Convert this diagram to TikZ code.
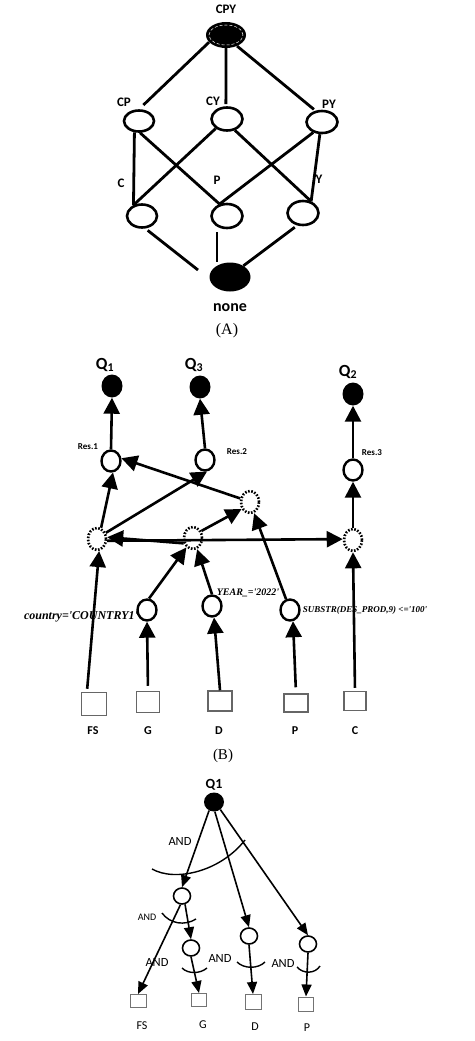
\documentclass[tikz,border=0pt]{standalone}
\usepackage{fontspec}
\setmainfont{Liberation Serif}
\newfontfamily\carl{Carlito}
\usetikzlibrary{arrows.meta,shapes.geometric,calc}
\newcommand{\sq}{\textquotesingle}
\begin{document}
\begin{tikzpicture}[x=1pt,y=-1pt,
  lat/.style={draw, ellipse, line width=2.6pt, inner sep=0pt},
  latfill/.style={ellipse, fill=black, inner sep=0pt},
  latlab/.style={font=\carl\bfseries\fontsize{13}{15}\selectfont, inner sep=0pt},
  ln/.style={line width=2.8pt},
  capt/.style={font=\fontsize{16}{18}\selectfont, inner sep=0pt},
  bc/.style={draw, ellipse, line width=2.4pt, minimum width=19pt, minimum height=21pt, inner sep=0pt},
  qc/.style={ellipse, fill=black, minimum width=21pt, minimum height=23pt, inner sep=0pt},
  dc/.style={draw, ellipse, line width=2.6pt, dash pattern=on 1.6pt off 1.6pt, minimum width=18pt, minimum height=22pt, inner sep=0pt},
  bbox/.style={draw=black!60, line width=1.5pt, inner sep=0pt},
  barr/.style={line width=2.6pt, -{Triangle[width=16pt,length=16pt]}},
  qlab/.style={font=\carl\bfseries\fontsize{17}{19}\selectfont, inner sep=0pt},
  rlab/.style={font=\carl\bfseries\fontsize{9}{11}\selectfont, inner sep=0pt},
  slab/.style={font=\bfseries\itshape, inner sep=0pt},
  blab/.style={font=\carl\bfseries\fontsize{12}{14}\selectfont, inner sep=0pt},
  cc/.style={draw, ellipse, line width=1.6pt, minimum width=17pt, minimum height=16pt, inner sep=0pt},
  cbox/.style={draw=black!55, line width=1pt, minimum width=15pt, minimum height=13pt, inner sep=0pt},
  carr/.style={line width=1.6pt, -{Triangle[width=10pt,length=12pt]}},
  arcst/.style={line width=1.4pt},
  andlab/.style={font=\carl\fontsize{12.5}{14}\selectfont, inner sep=0pt},
  clab/.style={font=\carl\fontsize{12}{14}\selectfont, inner sep=0pt}
]
\useasboundingbox (0,0) rectangle (474,1041);

% ================= (A) =================
\node[latlab] (tCPY) at (226,9) {CPY};
\node[latfill, minimum width=40pt, minimum height=26pt] (CPY) at (226,35) {};
\draw[white, densely dashed, line width=0.5pt] (CPY.center) ellipse [x radius=17pt, y radius=10pt];
\node[lat, minimum width=30pt, minimum height=21pt] (CP) at (139,121) {};
\node[lat, minimum width=31pt, minimum height=23pt] (CY) at (227,119) {};
\node[lat, minimum width=31pt, minimum height=22pt] (PY) at (322,122) {};
\node[lat, minimum width=30pt, minimum height=23pt] (C) at (142,216) {};
\node[lat, minimum width=31pt, minimum height=24pt] (P) at (227,216) {};
\node[lat, minimum width=31pt, minimum height=24pt] (Y) at (303,213) {};
\node[latfill, minimum width=41pt, minimum height=29pt] (none) at (230,277) {};

\node[latlab] (tCP) at (124,102) {CP};
\node[latlab] (tCY) at (213,101) {CY};
\node[latlab] (tPY) at (329,104) {PY};
\node[latlab] (tC) at (121,183) {C};
\node[latlab] (tP) at (217,180) {P};
\node[latlab] (tY) at (319,179) {Y};
\node[latlab, font=\carl\bfseries\fontsize{16}{18}\selectfont] (tnone) at (230,308) {none};
\node[capt] (capA) at (227,331) {(A)};

\draw[ln, shorten >=6pt] (CPY.203) -- (CP.north);
\draw[ln, shorten >=2pt] (CPY.south) -- (CY.95);
\draw[ln, shorten >=2pt] (CPY.-45) -- (PY.120);
\draw[ln] (CP.-112) -- (C.128);
\draw[ln] (CP.-85) -- (P.122);
\draw[ln] (CY.-140) -- (C.128);
\draw[ln] (CY.-55) -- (Y.55);
\draw[ln] (PY.-130) -- (P.122);
\draw[ln] (PY.-100) -- (Y.55);
\coordinate (nA) at (198,270);
\draw[ln, shorten <=3pt] (C.-75) -- (nA);
\draw[ln] ($(P.south)+(-10,3)$) -- ($(none.north)+(-13,0)$);
\draw[ln, shorten <=3pt] (Y.-115) -- (none.40);

% ================= (B) =================
\node[qc] (Q1) at (112,386) {};
\node[qc] (Q3) at (200,387) {};
\node[qc] (Q2) at (353,394) {};
\node[qlab] (tQ1) at (105,365) {Q\textsubscript{1}};
\node[qlab] (tQ3) at (194,365) {Q\textsubscript{3}};
\node[qlab] (tQ2) at (348,372) {Q\textsubscript{2}};

\node[bc] (R1) at (111,461) {};
\node[bc] (R2) at (205,460) {};
\node[bc] (R3) at (353,470) {};
\node[rlab] (tR1) at (88,447) {Res.1};
\node[rlab] (tR2) at (237,452) {Res.2};
\node[rlab] (tR3) at (372,453) {Res.3};

\node[dc] (D1) at (97,539) {};
\node[dc] (D2) at (193,538) {};
\node[dc] (D3) at (250,502) {};
\node[dc] (D4) at (353,540) {};

\node[bc] (S1) at (147,610) {};
\node[bc] (S2) at (212,606) {};
\node[bc] (S3) at (290,610) {};
\node[slab, font=\bfseries\itshape\fontsize{12}{14}\selectfont] (tS1) at (81,617) {country=\sq COUNTRY1\sq};
\node[slab, font=\bfseries\itshape\fontsize{10}{12}\selectfont] (tS2) at (248,593) {YEAR\_=\sq2022\sq};
\node[slab, font=\bfseries\itshape\fontsize{9}{11}\selectfont] (tS3) at (365,610) {SUBSTR(DES\_PROD,9) <=\sq100\sq};

\node[bbox, minimum width=25pt, minimum height=23pt] (bFS) at (94,704) {};
\node[bbox, minimum width=23pt, minimum height=21pt] (bG) at (148,702) {};
\node[bbox, minimum width=24pt, minimum height=20pt] (bD) at (220,701) {};
\node[bbox, minimum width=24pt, minimum height=18pt] (bP) at (296,703) {};
\node[bbox, minimum width=22pt, minimum height=19pt] (bC) at (355,701) {};
\node[blab] (tFS) at (93,731) {FS};
\node[blab] (tG) at (148,731) {G};
\node[blab] (tD) at (219,731) {D};
\node[blab] (tPb) at (295,731) {P};
\node[blab] (tCb) at (355,731) {C};
\node[capt, font=\fontsize{15}{17}\selectfont] (capB) at (223,756) {(B)};

\draw[barr] (R1.north) -- (Q1.south);
\draw[barr] (R2.north) -- (Q3.south);
\draw[barr] (R3.north) -- (Q2.south);
\draw[barr] (D1.70) -- (R1.-80);
\draw[barr] (D1.35) -- (R2.-80);
\draw[barr] (D3.160) -- (R1.15);
\draw[barr] (D2.40) -- (D3.220);
\draw[barr] (S3.110) -- (D3.-70);
\draw[barr] (D2.210) -- (D1.10);
\draw[barr] (D1.-10) -- (D4.175);
\draw[barr] (D4.north) -- (R3.south);
\draw[barr] (S1.80) -- (D2.235);
\draw[barr] (S2.north) -- (D2.-70);
\draw[barr, shorten <=3pt] (bFS.120) -- (D1.-80);
\draw[barr, shorten <=5pt] (bG.north) -- (S1.south);
\draw[barr] (bD.north) -- (S2.-80);
\draw[barr, shorten <=6pt] (bP.north) -- (S3.-75);
\draw[barr, shorten <=3pt] (bC.north) -- (D4.south);

% ================= (C) =================
\node[blab, font=\carl\bfseries\fontsize{14}{16}\selectfont] (tQ1c) at (214,785) {Q1};
\node[ellipse, fill=black, minimum width=20pt, minimum height=19pt, inner sep=0pt] (Q1c) at (214,802) {};
\node[cc] (cA) at (182,896) {};
\node[cc] (cG) at (191,948) {};
\node[cc] (cD) at (249,936) {};
\node[cc] (cP) at (308,944) {};
\node[cbox, minimum width=16pt, minimum height=13pt] (cbFS) at (138,1001) {};
\node[cbox, minimum width=15pt, minimum height=13pt] (cbG) at (199,1000) {};
\node[cbox, minimum width=16pt, minimum height=15pt] (cbD) at (253,1002) {};
\node[cbox, minimum width=15pt, minimum height=14pt] (cbP) at (306,1004) {};
\node[clab] (tcFS) at (142,1026) {FS};
\node[clab] (tcG) at (203,1025) {G};
\node[clab] (tcD) at (255,1027) {D};
\node[clab] (tcP) at (307,1028) {P};

\draw[carr] (Q1c.-120) -- (cA.north);
\draw[carr] (Q1c.-85) -- (cD.north);
\draw[carr] (Q1c.-50) -- (cP.north);
\draw[carr] (cA.-100) -- (cbFS.north);
\draw[carr] (cA.-70) -- (cG.north);
\draw[carr] (cG.south) -- (cbG.north);
\draw[carr] (cD.south) -- (cbD.north);
\draw[carr] (cP.south) -- (cbP.north);

\draw[arcst] (152,869) .. controls (175,882) and (220,872) .. (245,840);
\draw[arcst] (162,913) .. controls (170,924) and (185,926) .. (196,919);
\draw[arcst] (182,968) .. controls (188,974) and (200,974) .. (207,968);
\draw[arcst] (237,962) .. controls (244,969) and (258,969) .. (265,962);
\draw[arcst] (297,967) .. controls (303,974) and (315,974) .. (320,966);

\node[andlab] (and1) at (180,841) {AND};
\node[andlab, font=\carl\fontsize{10}{12}\selectfont] (and2) at (147,917) {AND};
\node[andlab] (and3) at (157,962) {AND};
\node[andlab] (and4) at (220,958) {AND};
\node[andlab] (and5) at (283,963) {AND};
\end{tikzpicture}
\end{document}
